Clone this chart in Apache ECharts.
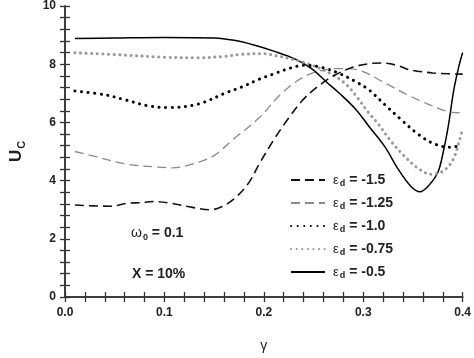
<!DOCTYPE html>
<html><head><meta charset="utf-8">
<script src="https://cdn.jsdelivr.net/npm/echarts@6/dist/echarts.min.js"></script>
<style>html,body{margin:0;padding:0;background:#fff}#c{width:474px;height:358px}</style>
</head><body><div id="c"></div>
<script>
// ---- data ----
const names = ['-1.5', '-1.25', '-1.0', '-0.75', '-0.5'];
const g15 = [0.01,0.03,0.046,0.062,0.075,0.089,0.105,0.128,0.146,0.157,0.17,0.185,0.195,0.21,0.225,0.24,0.255,0.27,0.29,0.31,0.32,0.335,0.345,0.355,0.37,0.385,0.4];
const u15 = [3.16,3.13,3.12,3.22,3.24,3.28,3.23,3.08,3.0,3.09,3.37,3.93,4.55,5.4,6.15,6.8,7.25,7.6,7.9,8.03,8.04,7.95,7.82,7.76,7.7,7.67,7.66];
const g125 = [0.01,0.03,0.063,0.092,0.108,0.127,0.149,0.169,0.195,0.218,0.24,0.26,0.276,0.296,0.322,0.345,0.365,0.387,0.4];
const u125 = [5.0,4.83,4.56,4.47,4.44,4.56,4.84,5.41,6.15,7.0,7.56,7.8,7.85,7.79,7.35,6.94,6.63,6.36,6.33];
const g10 = [0.01,0.04,0.06,0.085,0.105,0.134,0.162,0.178,0.195,0.211,0.227,0.24,0.257,0.276,0.293,0.306,0.322,0.338,0.355,0.371,0.387,0.397];
const u10 = [7.08,6.95,6.78,6.56,6.51,6.63,7.02,7.22,7.48,7.68,7.87,7.96,7.9,7.68,7.39,7.11,6.6,6.1,5.6,5.27,5.15,5.2];
const g075 = [0.01,0.05,0.1,0.134,0.16,0.178,0.2,0.211,0.225,0.244,0.267,0.283,0.293,0.305,0.315,0.328,0.342,0.356,0.368,0.38,0.39,0.397,0.4];
const u075 = [8.39,8.33,8.24,8.22,8.27,8.34,8.36,8.3,8.2,8.02,7.68,7.3,6.9,6.35,5.95,5.35,4.82,4.4,4.22,4.32,4.7,5.4,5.8];
const g05 = [0.01,0.05,0.1,0.15,0.17,0.19,0.21,0.23,0.248,0.263,0.276,0.293,0.306,0.322,0.335,0.348,0.357,0.365,0.375,0.381,0.386,0.391,0.396,0.4];
const u05 = [8.88,8.9,8.92,8.9,8.82,8.66,8.45,8.2,7.85,7.39,7.0,6.43,5.85,5.15,4.4,3.8,3.62,3.8,4.28,5.07,5.97,7.1,7.9,8.4];
const xTicks = [0, 0.1, 0.2, 0.3, 0.4];
const yTicks = [0, 2, 4, 6, 8, 10];

const pairs = (g, u) => g.map((x, i) => [x, u[i]]);
const styles = [
  {color:'#111', width:1.6, type:[9,5], cap:'butt'},
  {color:'#8a8a8a', width:1.3, type:[9,5], cap:'butt'},
  {color:'#000', width:3, type:[0.1,6.5], cap:'round'},
  {color:'#999', width:3, type:[0.1,5.5], cap:'round'},
  {color:'#000', width:1.5, type:'solid', cap:'butt'}
];
const sets = [[g15,u15],[g125,u125],[g10,u10],[g075,u075],[g05,u05]];

const font = 'Liberation Sans, Arial, sans-serif';
const axisCol = '#333';
const tickCommon = {
  axisLine:{show:true, lineStyle:{color:axisCol, width:1.5}},
  axisTick:{show:true, inside:true, length:5, lineStyle:{color:axisCol, width:1.3}},
  splitLine:{show:false}
};
const chart = echarts.init(document.getElementById('c'), null, {renderer:'canvas'});
chart.setOption({
  animation:false,
  grid:{left:58, right:8, top:5, bottom:59},
  xAxis:[
    Object.assign({type:'value', min:0, max:0.4, interval:0.02,
      axisLabel:{color:'#222', fontFamily:font, fontWeight:'bold', fontSize:12, margin:10,
        formatter:v=>xTicks.includes(+v.toFixed(2)) ? v.toFixed(1) : ''},
      name:'γ', nameLocation:'middle', nameGap:42,
      nameTextStyle:{color:'#222', fontFamily:font, fontSize:14}}, tickCommon),
    Object.assign({type:'value', min:0, max:0.4, interval:0.02, position:'top',
      axisLabel:{show:false}}, tickCommon)
  ],
  yAxis:[
    Object.assign({type:'value', min:0, max:10, interval:0.4,
      axisLabel:{color:'#222', fontFamily:font, fontWeight:'bold', fontSize:12, margin:9,
        formatter:v=>yTicks.includes(+v.toFixed(2)) ? String(+v.toFixed(2)) : ''},
      name:'{u|U}{c|C}', nameLocation:'middle', nameGap:38, nameRotate:90,
      nameTextStyle:{rich:{
        u:{fontFamily:font, fontWeight:'bold', fontSize:17, color:'#222'},
        c:{fontFamily:font, fontWeight:'bold', fontSize:11, color:'#222', padding:[10,0,0,1]}
      }}}, tickCommon),
    Object.assign({type:'value', min:0, max:10, interval:0.4, position:'right',
      axisLabel:{show:false}}, tickCommon)
  ],
  legend:{
    orient:'vertical', left:285, top:168, itemWidth:34, itemHeight:14, itemGap:7.5,
    data:names,
    itemStyle:{opacity:0},
    formatter:n=>'{e|ε}{d|d}{t| = '+n+'}',
    textStyle:{rich:{
      e:{fontFamily:font, fontSize:13, color:'#222', padding:[0,0,0,3]},
      d:{fontFamily:font, fontSize:9, fontWeight:'bold', color:'#222', padding:[8,0,0,1]},
      t:{fontFamily:font, fontSize:14, fontWeight:'bold', color:'#222'}
    }}
  },
  graphic:[
    {type:'text', left:131, top:226, style:{
      text:'{w|ω}{s|0}{t| = 0.1}', rich:{
        w:{fontFamily:font, fontSize:14, fill:'#222'},
        s:{fontFamily:font, fontSize:9, fontWeight:'bold', fill:'#222', padding:[9,0,0,1]},
        t:{fontFamily:font, fontSize:14, fontWeight:'bold', fill:'#222'}
      }}},
    {type:'text', left:132, top:267, style:{text:'X = 10%',
      font:'bold 14px Liberation Sans, Arial, sans-serif', fill:'#222'}}
  ],
  series: sets.map((s, i) => ({
    name:names[i], type:'line', smooth:0.35, showSymbol:false, symbol:'none',
    data:pairs(s[0], s[1]), z:10-i,
    lineStyle:{color:styles[i].color, width:styles[i].width, type:styles[i].type, cap:styles[i].cap},
    itemStyle:{color:styles[i].color}
  }))
});
</script></body></html>
